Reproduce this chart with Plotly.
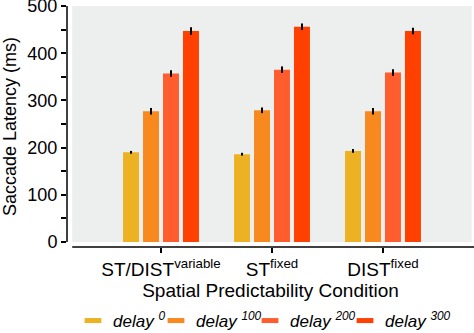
import plotly.graph_objects as go

categories = ["ST/DIST<sup>variable</sup>", "ST<sup>fixed</sup>", "DIST<sup>fixed</sup>"]
series_names = ["delay <sup>0</sup>", "delay <sup>100</sup>",
                "delay <sup>200</sup>", "delay <sup>300</sup>"]
delay0 = [190, 186, 193]
delay100 = [277, 279, 277]
delay200 = [357, 365, 359]
delay300 = [447, 456, 447]
err0 = [3, 3, 4]
err100 = [7, 6, 7]
err200 = [7, 7, 7]
err300 = [8, 7, 7]
colors = ["#ECB223", "#F7891E", "#FF5D2D", "#FF4000"]

values = [delay0, delay100, delay200, delay300]
errors = [err0, err100, err200, err300]
xpos = list(range(len(categories)))

FONT = "Liberation Sans, Arial, Helvetica, sans-serif"

# layout constants (pixels)
W, H = 474, 333
ML, MR, MT, MB = 67, 0, 6, 86
PW, PH = W - ML - MR, H - MT - MB
legend_text_px = [110, 193, 287, 382]   # where each legend label starts
legend_mid_px = 321

fig = go.Figure()
legend_ids = ["legend", "legend2", "legend3", "legend4"]
for i, (name, vals, errs, col) in enumerate(zip(series_names, values, errors, colors)):
    fig.add_trace(go.Bar(
        x=xpos, y=vals, name=name, legendgroup=name, showlegend=False,
        marker=dict(color=col, line=dict(width=0)),
        error_y=dict(type="data", array=errs, color="black", thickness=2, width=0),
    ))
    # legend entry (dash marker like the reference)
    fig.add_trace(go.Scatter(
        x=[None], y=[None], mode="markers", name=name, legendgroup=name,
        legend=legend_ids[i], showlegend=True,
        marker=dict(symbol="line-ew", size=12, color=col,
                    line=dict(color=col, width=5)),
    ))

legend_layout = {}
for i, lid in enumerate(legend_ids):
    legend_layout[lid] = dict(
        x=(legend_text_px[i] - 37 - ML) / PW, xanchor="left",
        y=-(legend_mid_px - (MT + PH)) / PH, yanchor="middle",
        orientation="h", bgcolor="rgba(0,0,0,0)",
        font=dict(size=17, style="italic", family=FONT, color="black"),
        itemwidth=30,
    )

fig.update_layout(
    width=W, height=H,
    margin=dict(l=ML, r=MR, t=MT, b=MB, autoexpand=False),
    paper_bgcolor="white", plot_bgcolor="white",
    barmode="group", bargap=0.28, bargroupgap=0.2,
    font=dict(family=FONT, size=17, color="black"),
    showlegend=True,
    shapes=[
        dict(type="rect", xref="x", yref="y", x0=-0.8, x1=2.8, y0=0, y1=500,
             fillcolor="#EDEEEE", line=dict(width=0), layer="below"),
        dict(type="line", xref="paper", yref="y", x0=0, x1=0, y0=0, y1=500,
             line=dict(color="black", width=1.5)),
        dict(type="line", xref="x", yref="paper", x0=-0.8, x1=2.85, y0=0, y1=0,
             line=dict(color="black", width=1.5)),
    ],
    **legend_layout,
)

fig.update_xaxes(
    range=[-0.847, 2.82], tickmode="array", tickvals=xpos, ticktext=categories,
    ticks="outside", ticklen=5, tickcolor="black", tickwidth=1.5,
    showline=False, showgrid=False, zeroline=False,
    tickfont=dict(size=19),
    title=dict(text="Spatial Predictability Condition", font=dict(size=19), standoff=2),
)
fig.update_yaxes(
    range=[-10.6, 500.01], tickmode="array", tickvals=[0, 100, 200, 300, 400, 500],
    ticks="outside", ticklen=5, tickcolor="black", tickwidth=1.5,
    ticklabeloverflow="allow",
    minor=dict(tickvals=[50, 150, 250, 350, 450], ticks="outside", ticklen=5,
               tickcolor="black", tickwidth=1.5),
    showline=False, showgrid=False, zeroline=False,
    tickfont=dict(size=18),
    title=dict(text="Saccade Latency (ms)", font=dict(size=18), standoff=8),
)

fig.write_html("out.html")
